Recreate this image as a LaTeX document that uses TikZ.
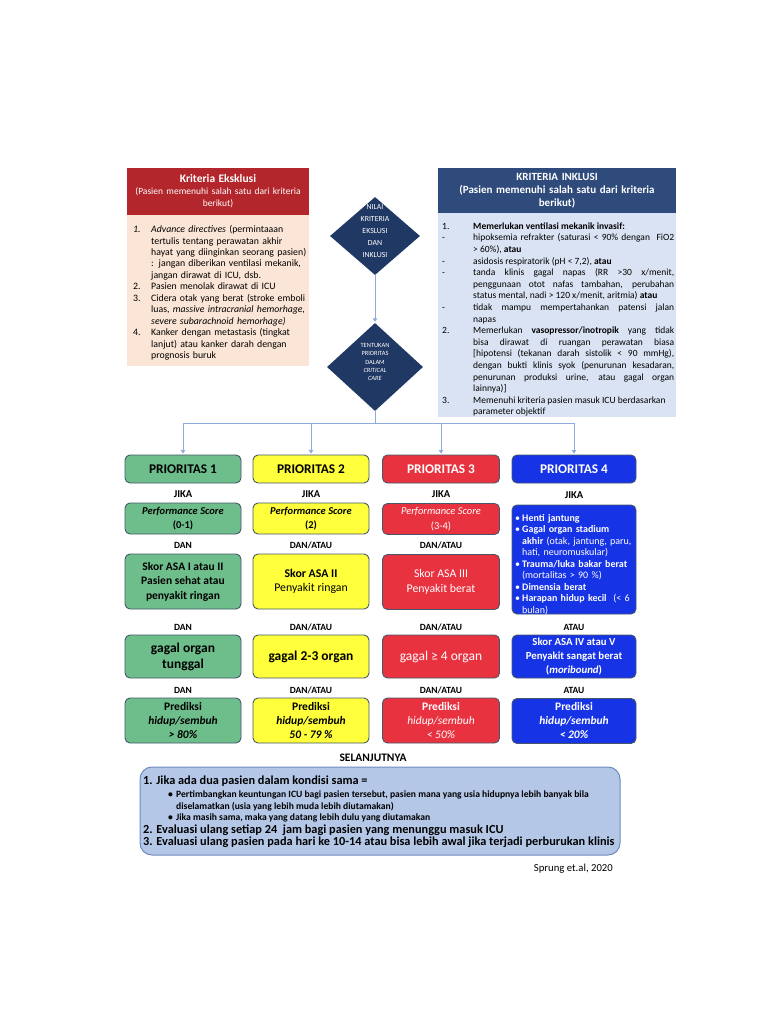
\documentclass[tikz,border=0pt]{standalone}
\usepackage{fontspec}
\setmainfont{Carlito}
\usetikzlibrary{shapes.geometric,arrows.meta}
\definecolor{exred}{HTML}{B3262B}
\definecolor{expeach}{HTML}{FBE5D6}
\definecolor{innavy}{HTML}{2F4B7C}
\definecolor{inbody}{HTML}{DAE3F3}
\definecolor{dnavy}{HTML}{203864}
\definecolor{connc}{HTML}{8FAADC}
\definecolor{pgreen}{HTML}{6EBE8C}
\definecolor{pyellow}{HTML}{FFFF3C}
\definecolor{pred}{HTML}{E8323F}
\definecolor{pblue}{HTML}{1733E6}
\definecolor{pborder}{HTML}{45586A}
\definecolor{botfill}{HTML}{B4C7E7}
\definecolor{botdraw}{HTML}{6F8DBF}
\newcommand\fs[2]{\fontsize{#1}{#2}\selectfont}
\newcommand\hitem[3]{\par\noindent\hangindent=#1\hangafter=1\makebox[#1][l]{#2}#3\par}
\newcommand\bul[1]{\par\noindent\hangindent=7pt\hangafter=1\makebox[7pt][l]{•}#1\par}
\begin{document}
\begin{tikzpicture}[x=1pt,y=-1pt,
  pbox/.style={draw=pborder,line width=0.9pt,rounded corners=5pt,align=center,inner sep=1pt},
  lbl/.style={font=\bfseries\fs{9.5}{11},inner sep=0pt},
  jlbl/.style={font=\bfseries\fs{10.5}{12},inner sep=0pt},
  conn/.style={draw=connc,line width=0.9pt},
  arr/.style={conn,-{Triangle[width=4.5pt,length=3.5pt]},shorten >=1pt},
  dia/.style={diamond,fill=dnavy,inner sep=0pt},
  diatxt/.style={text=white,align=center,inner sep=0pt},
  bline/.style={anchor=base west,inner sep=0pt},
]
\useasboundingbox (0,0) rectangle (768,1024);
\fill[white] (0,0) rectangle (768,1024);

% ---------- Exclusion ----------
\node[fill=exred,minimum width=182pt,minimum height=47pt,inner sep=0pt,text=white,text width=180pt,align=center] (exhead) at (218,191.5)
 {{\bfseries\fs{11.5}{14}Kriteria Eksklusi\par}\fs{9.5}{12}(Pasien memenuhi salah satu dari kriteria\\berikut)};
\node[fill=expeach,minimum width=182pt,minimum height=151pt,inner sep=0pt,anchor=north] (exbody) at (218,215) {};
\node[anchor=north west,text width=190pt,align=left,inner sep=0pt,font=\fs{9.8}{11.45}] (extxt) at (133,221) {%
\hitem{18pt}{\textit{1.}}{\textit{Advance directives} (permintaaan\newline tertulis tentang perawatan akhir\newline hayat yang diinginkan seorang pasien)\newline : jangan diberikan ventilasi mekanik,\newline jangan dirawat di ICU, dsb.}%
\hitem{18pt}{2.}{Pasien menolak dirawat di ICU}%
\hitem{18pt}{3.}{Cidera otak yang berat (stroke emboli\newline luas, \textit{massive intracranial hemorhage,}\newline \textit{severe subarachnoid hemorhage)}}%
\hitem{18pt}{4.}{Kanker dengan metastasis (tingkat\newline lanjut) atau kanker darah dengan\newline prognosis buruk}};

% ---------- Inclusion ----------
\node[fill=innavy,minimum width=238pt,minimum height=45pt,inner sep=0pt,text=white,text width=236pt,align=center,font=\bfseries\fs{11}{13}] (inhead) at (557,190.5)
 {KRITERIA INKLUSI\\(Pasien memenuhi salah satu dari kriteria\\berikut)};
\node[fill=inbody,minimum width=238pt,minimum height=204pt,inner sep=0pt,anchor=north] (inbody) at (557,213) {};
\node[anchor=north west,text width=232pt,align=justify,inner sep=0pt,font=\fs{9.5}{11.6}] (intxt) at (442,217.5) {%
\hitem{31pt}{1.}{\textbf{Memerlukan ventilasi mekanik invasif:}}%
\hitem{31pt}{-}{hipoksemia refrakter (saturasi < 90\% dengan\ \ FiO2\linebreak > 60\%), \textbf{atau}}%
\hitem{31pt}{-}{asidosis respiratorik (pH < 7,2), \textbf{atau}}%
\hitem{31pt}{-}{tanda klinis gagal napas (RR >30 x/menit,\linebreak penggunaan otot nafas tambahan, perubahan\linebreak status mental, nadi > 120 x/menit, aritmia) \textbf{atau}}%
\hitem{31pt}{-}{tidak mampu mempertahankan patensi jalan\linebreak napas}%
\hitem{31pt}{2.}{Memerlukan \textbf{vasopressor/inotropik} yang tidak\linebreak bisa dirawat di ruangan perawatan biasa\linebreak{}[hipotensi (tekanan darah sistolik < 90 mmHg),\linebreak dengan bukti klinis syok (penurunan kesadaran,\linebreak penurunan produksi urine, atau gagal organ\linebreak lainnya)]}%
\hitem{31pt}{3.}{Memenuhi kriteria pasien masuk ICU berdasarkan\newline parameter objektif}};

% ---------- Diamonds ----------
\node[dia,minimum width=90pt,minimum height=78pt] (d1) at (375,236) {};
\node[diatxt,font=\fs{7.8}{11.8}] (d1t) at (375,231) {NILAI\\KRITERIA\\EKSLUSI\\DAN\\INKLUSI};
\node[dia,minimum width=96pt,minimum height=88pt] (d2) at (375,367) {};
\node[diatxt,font=\fs{6.4}{8.3}] (d2t) at (375,362) {TENTUKAN\\PRIORITAS\\DALAM\\\textit{CRITICAL}\\\textit{CARE}};

% ---------- Priority titles ----------
\node[pbox,fill=pgreen,minimum width=116pt,minimum height=28pt,font=\bfseries\fs{13.3}{15}] (t1) at (183,469) {PRIORITAS 1};
\node[pbox,fill=pyellow,minimum width=116pt,minimum height=28pt,font=\bfseries\fs{13.3}{15}] (t2) at (311,469) {PRIORITAS 2};
\node[pbox,fill=pred,text=white,minimum width=117pt,minimum height=28pt,font=\bfseries\fs{13.3}{15}] (t3) at (441,469) {PRIORITAS 3};
\node[pbox,fill=pblue,text=white,minimum width=124pt,minimum height=28pt,font=\bfseries\fs{13.3}{15}] (t4) at (574,469) {PRIORITAS 4};

% connectors
\coordinate (bus) at (375,423);
\draw[arr] (d1) -- (d2);
\draw[conn] (d2) -- (bus);
\draw[arr] (bus) -| (t1.north);
\draw[arr] (bus) -| (t2.north);
\draw[arr] (bus) -| (t3.north);
\draw[arr] (bus) -| (t4.north);

% JIKA labels
\node[jlbl] (j1) at (183,494) {JIKA};
\node[jlbl] (j2) at (311,494) {JIKA};
\node[jlbl] (j3) at (441,494) {JIKA};
\node[jlbl] (j4) at (574,495) {JIKA};

% Performance score
\node[pbox,fill=pgreen,minimum width=116pt,minimum height=31pt,font=\bfseries\fs{10.5}{14.5}] (s1) at (183,518.5) {\textit{Performance Score}\\(0-1)};
\node[pbox,fill=pyellow,minimum width=116pt,minimum height=31pt,font=\bfseries\fs{10.5}{14.5}] (s2) at (311,518.5) {\textit{Performance Score}\\(2)};
\node[pbox,fill=pred,text=white,minimum width=117pt,minimum height=31pt,font=\fs{10.5}{14.5}] (s3) at (441,519) {\textit{Performance Score}\\(3-4)};

% Prioritas 4 box
\node[pbox,fill=pblue,minimum width=124pt,minimum height=109pt] (s4) at (574,559.5) {};
\node[anchor=north west,text width=120pt,align=left,inner sep=0pt,text=white,font=\fs{10}{11.5}] (s4t) at (515,509.5) {%
\bul{\textbf{Henti jantung}}%
\bul{\textbf{Gagal organ stadium}\newline\textbf{akhir} (otak, jantung, paru,\newline hati, neuromuskular)}%
\bul{\textbf{Trauma/luka bakar berat}\newline(mortalitas > 90 \%)}%
\bul{\textbf{Dimensia berat}}%
\bul{\textbf{Harapan hidup kecil}\ \ (< 6\newline bulan)}};

% labels row 2
\node[lbl] (a1) at (183,545) {DAN};
\node[lbl] (a2) at (311,545) {DAN/ATAU};
\node[lbl] (a3) at (441,545) {DAN/ATAU};

% ASA
\node[pbox,fill=pgreen,minimum width=116pt,minimum height=55pt,font=\bfseries\fs{11.5}{14.5}] (r1) at (183,581.5) {Skor ASA I atau II\\Pasien sehat atau\\penyakit ringan};
\node[pbox,fill=pyellow,minimum width=116pt,minimum height=55pt,font=\fs{11.8}{14}] (r2) at (311,581.5) {\textbf{Skor ASA II}\\Penyakit ringan};
\node[pbox,fill=pred,text=white,minimum width=117pt,minimum height=55pt,font=\fs{11.8}{15}] (r3) at (441,582) {Skor ASA III\\Penyakit berat};

% labels row 3
\node[lbl] (b1l) at (183,627) {DAN};
\node[lbl] (b2l) at (311,627) {DAN/ATAU};
\node[lbl] (b3l) at (441,627) {DAN/ATAU};
\node[lbl] (b4l) at (574,627) {ATAU};

% organ
\node[pbox,fill=pgreen,minimum width=116pt,minimum height=43pt,font=\bfseries\fs{13.5}{16}] (o1) at (183,656.5) {gagal organ\\tunggal};
\node[pbox,fill=pyellow,minimum width=116pt,minimum height=43pt,font=\bfseries\fs{13.5}{16}] (o2) at (311,656.5) {gagal 2-3 organ};
\node[pbox,fill=pred,text=white,minimum width=117pt,minimum height=43pt,font=\fs{13.5}{16}] (o3) at (441,656.5) {gagal ≥ 4 organ};
\node[pbox,fill=pblue,text=white,minimum width=124pt,minimum height=43pt,font=\bfseries\fs{10.8}{14.3}] (o4) at (574,656.5) {Skor ASA IV atau V\\Penyakit sangat berat\\(\textit{moribound})};

% labels row 4
\node[lbl] (c1l) at (183,690) {DAN};
\node[lbl] (c2l) at (311,690) {DAN/ATAU};
\node[lbl] (c3l) at (441,690) {DAN/ATAU};
\node[lbl] (c4l) at (574,690) {ATAU};

% prediction
\node[pbox,fill=pgreen,minimum width=116pt,minimum height=45pt,font=\bfseries\fs{11.5}{14}] (q1) at (183,720.5) {Prediksi\\\textit{hidup/sembuh}\\\textit{> 80\%}};
\node[pbox,fill=pyellow,minimum width=116pt,minimum height=45pt,font=\bfseries\fs{11.5}{14}] (q2) at (311,720.5) {Prediksi\\\textit{hidup/sembuh}\\\textit{50 - 79 \%}};
\node[pbox,fill=pred,text=white,minimum width=117pt,minimum height=45pt,font=\fs{11.5}{14}] (q3) at (441,720.5) {\textbf{Prediksi}\\\textit{hidup/sembuh}\\\textit{< 50\%}};
\node[pbox,fill=pblue,text=white,minimum width=124pt,minimum height=45pt,font=\bfseries\fs{11.5}{14}] (q4) at (574,721) {Prediksi\\\textit{hidup/sembuh}\\\textit{< 20\%}};

% ---------- bottom ----------
\node[anchor=base,inner sep=0pt,font=\bfseries\fs{11.5}{13}] (sel) at (373,761) {SELANJUTNYA};
\node[fill=botfill,draw=botdraw,line width=1pt,rounded corners=12pt,minimum width=480pt,minimum height=88pt,inner sep=0pt] (bot) at (380,811) {};
\node[bline,font=\bfseries\fs{12.3}{13}] (bt1) at (143,784) {1. Jika ada dua pasien dalam kondisi sama =};
\node[bline,font=\bfseries\fs{9.6}{11}] (bt2) at (168,797) {\makebox[8pt][l]{•}Pertimbangkan keuntungan ICU bagi pasien tersebut, pasien mana yang usia hidupnya lebih banyak bila};
\node[bline,font=\bfseries\fs{9.6}{11}] (bt3) at (176,809) {diselamatkan (usia yang lebih muda lebih diutamakan)};
\node[bline,font=\bfseries\fs{9.6}{11}] (bt4) at (168,820) {\makebox[8pt][l]{•}Jika masih sama, maka yang datang lebih dulu yang diutamakan};
\node[bline,font=\bfseries\fs{12.3}{13}] (bt5) at (143,833) {2. Evaluasi ulang setiap 24\ \ jam bagi pasien yang menunggu masuk ICU};
\node[bline,font=\bfseries\fs{12.3}{13}] (bt6) at (143,845) {3. Evaluasi ulang pasien pada hari ke 10-14 atau bisa lebih awal jika terjadi perburukan klinis};
\node[anchor=base east,inner sep=0pt,font=\fs{10.7}{12}] (src) at (613,871) {Sprung et.al, 2020};
\end{tikzpicture}
\end{document}
